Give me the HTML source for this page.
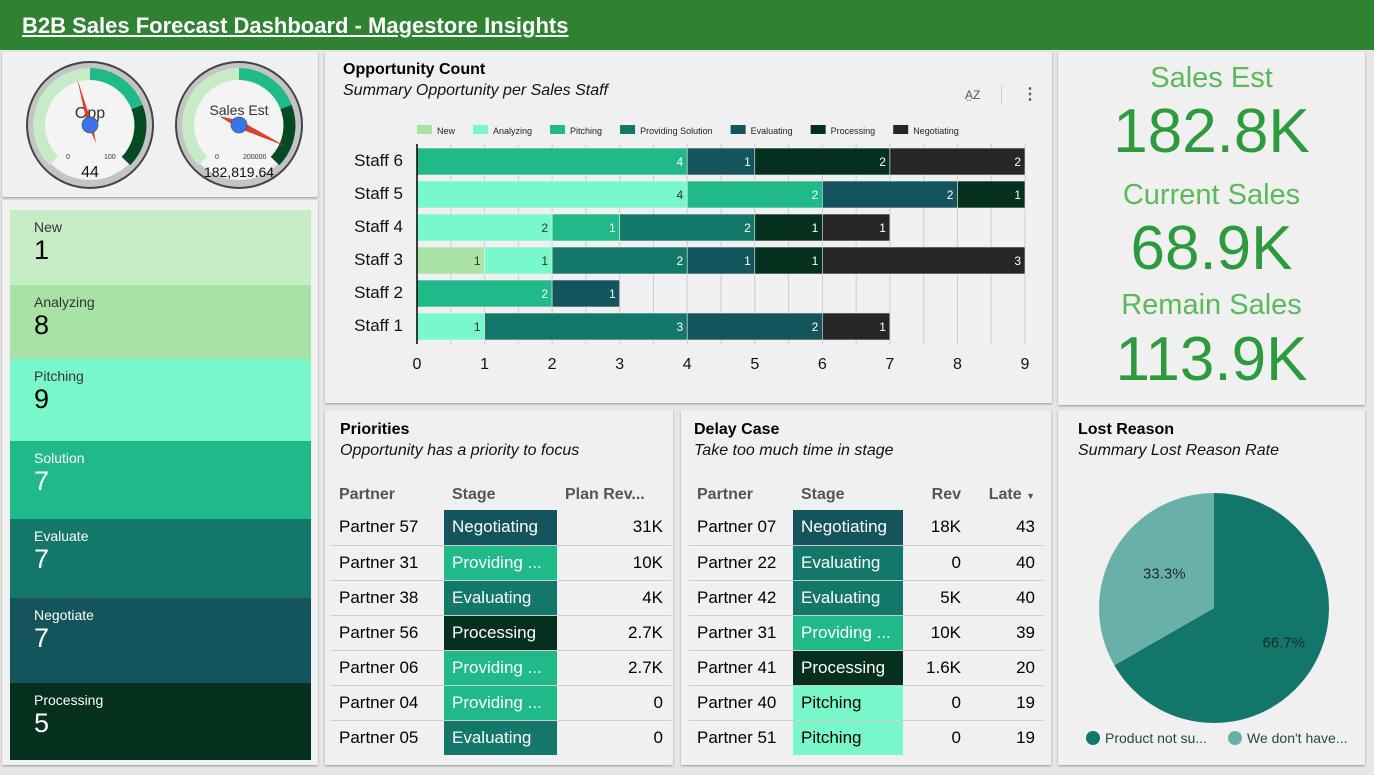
<!DOCTYPE html>
<html><head><meta charset="utf-8">
<style>
*{box-sizing:border-box;margin:0;padding:0}
body{width:1374px;height:775px;background:#e6e6e6;font-family:"Liberation Sans",sans-serif;position:relative;overflow:hidden}
.panel{position:absolute;background:#f0f0f0;box-shadow:0 1px 2px rgba(0,0,0,.35)}
.hdr{position:absolute;left:0;top:0;width:1374px;height:50px;background:#2e8232}
.hdr span{position:absolute;left:22px;top:13px;color:#fff;font-weight:bold;font-size:22px;text-decoration:underline}
.card{position:absolute;left:10px;width:301px}
.card .l{position:absolute;left:24px;top:9px;font-size:14px;color:#333}
.card .v{position:absolute;left:24px;top:25px;font-size:27px;color:#000}
.card.d .l,.card.d .v{color:#fff}
.ttl{position:absolute;font-weight:bold;font-size:16px;color:#000}
.sub{position:absolute;font-style:italic;font-size:16px;color:#111}
.kl{position:absolute;width:307px;text-align:center;color:#5cb85c;font-size:29px}
.kv{position:absolute;width:307px;text-align:center;color:#2e9a3e;font-size:62px}
table{position:absolute;border-collapse:collapse;font-size:17px}
td,th{height:35px;padding:0 8px;white-space:nowrap;overflow:hidden}
th{color:#555;font-size:16px;text-align:left;height:30px}
tr.r td{border-bottom:1px solid #ccc}
td.n{text-align:right}
</style></head><body>
<div class="hdr"><span>B2B Sales Forecast Dashboard - Magestore Insights</span></div>

<div class="panel" style="left:2px;top:52px;width:316px;height:145px">
<svg width="316" height="145">
<g transform="translate(88,73)">
<circle r="64" fill="#444"/><circle r="62" fill="#c4c4c4"/><circle r="55" fill="#f4f4f4"/>
<path d="M -36 36 A 51 51 0 0 1 0 -51" stroke="#c6ebc6" stroke-width="12" fill="none"/>
<path d="M 0 -51 A 51 51 0 0 1 47 -18" stroke="#20b98a" stroke-width="12" fill="none"/>
<path d="M 47 -18 A 51 51 0 0 1 36 36" stroke="#064a22" stroke-width="12" fill="none"/>
<text x="0" y="-7" text-anchor="middle" font-size="16" fill="#333">Opp</text>
<text x="-24" y="34" font-size="7" fill="#333">0</text><text x="14" y="34" font-size="7" fill="#333">100</text>
<text x="0" y="52" text-anchor="middle" font-size="16" fill="#111">44</text>
<polygon points="-13,-47 -3,-2 6,18 3,2" fill="#d94030"/>
<circle r="8" fill="#3d72e8" stroke="#456" stroke-width="0.7"/>
</g>
<g transform="translate(237,73)">
<circle r="64" fill="#444"/><circle r="62" fill="#c4c4c4"/><circle r="55" fill="#f4f4f4"/>
<path d="M -36 36 A 51 51 0 0 1 0 -51" stroke="#c6ebc6" stroke-width="12" fill="none"/>
<path d="M 0 -51 A 51 51 0 0 1 47 -18" stroke="#20b98a" stroke-width="12" fill="none"/>
<path d="M 47 -18 A 51 51 0 0 1 36 36" stroke="#064a22" stroke-width="12" fill="none"/>
<text x="0" y="-10" text-anchor="middle" font-size="14" fill="#333">Sales Est</text>
<text x="-24" y="34" font-size="7" fill="#333">0</text><text x="4" y="34" font-size="7" fill="#333">200000</text>
<text x="0" y="52" text-anchor="middle" font-size="14" fill="#111">182,819.64</text>
<polygon points="46,21 2,-4 -20,-9 -1,3" fill="#d94030"/>
<circle r="8" fill="#3d72e8" stroke="#456" stroke-width="0.7"/>
</g></svg></div>

<div class="panel" style="left:2px;top:200px;width:316px;height:565px"></div>
<div class="card" style="top:210px;height:75px;background:#c6ecc6"><div class="l">New</div><div class="v">1</div></div>
<div class="card" style="top:285px;height:74px;background:#a8e2a4"><div class="l">Analyzing</div><div class="v">8</div></div>
<div class="card" style="top:359px;height:82px;background:#78f8cb"><div class="l">Pitching</div><div class="v">9</div></div>
<div class="card d" style="top:441px;height:78px;background:#20b98a"><div class="l">Solution</div><div class="v">7</div></div>
<div class="card d" style="top:519px;height:79px;background:#13786a"><div class="l">Evaluate</div><div class="v">7</div></div>
<div class="card d" style="top:598px;height:85px;background:#14545c"><div class="l">Negotiate</div><div class="v">7</div></div>
<div class="card d" style="top:683px;height:77px;background:#05301e"><div class="l">Processing</div><div class="v">5</div></div>

<div class="panel" style="left:325px;top:52px;width:727px;height:351px">
<div class="ttl" style="left:18px;top:9px">Opportunity Count</div>
<div class="sub" style="left:18px;top:30px">Summary Opportunity per Sales Staff</div>
<div style="position:absolute;left:640px;top:36px;font-size:12px;color:#555">A̤Z</div>
<div style="position:absolute;left:676px;top:33px;width:1px;height:20px;background:#ccc"></div>
<div style="position:absolute;left:697px;top:32px;font-size:16px;color:#555;font-weight:bold">⋮</div>
<svg id="bar" width="727" height="351" style="position:absolute;left:0;top:0"></svg>
</div>

<div class="panel" style="left:1058px;top:52px;width:307px;height:353px">
<div class="kl" style="top:10px">Sales Est</div><div class="kv" style="top:44px">182.8K</div>
<div class="kl" style="top:127px">Current Sales</div><div class="kv" style="top:161px">68.9K</div>
<div class="kl" style="top:237px">Remain Sales</div><div class="kv" style="top:272px">113.9K</div>
</div>

<div class="panel" style="left:325px;top:410px;width:348px;height:355px">
<div class="ttl" style="left:15px;top:11px">Priorities</div>
<div class="sub" style="left:15px;top:32px">Opportunity has a priority to focus</div>
<table style="left:6px;top:70px;width:340px">
<colgroup><col style="width:113px"><col style="width:113px"><col style="width:114px"></colgroup>
<tr><th>Partner</th><th>Stage</th><th>Plan Rev...</th></tr>
<tr class="r"><td>Partner 57</td><td style="background:#14545c;color:#fff">Negotiating</td><td class="n">31K</td></tr>
<tr class="r"><td>Partner 31</td><td style="background:#20b98a;color:#fff">Providing ...</td><td class="n">10K</td></tr>
<tr class="r"><td>Partner 38</td><td style="background:#13786a;color:#fff">Evaluating</td><td class="n">4K</td></tr>
<tr class="r"><td>Partner 56</td><td style="background:#05301e;color:#fff">Processing</td><td class="n">2.7K</td></tr>
<tr class="r"><td>Partner 06</td><td style="background:#20b98a;color:#fff">Providing ...</td><td class="n">2.7K</td></tr>
<tr class="r"><td>Partner 04</td><td style="background:#20b98a;color:#fff">Providing ...</td><td class="n">0</td></tr>
<tr><td>Partner 05</td><td style="background:#13786a;color:#fff">Evaluating</td><td class="n">0</td></tr>
</table></div>

<div class="panel" style="left:681px;top:410px;width:370px;height:355px">
<div class="ttl" style="left:13px;top:11px">Delay Case</div>
<div class="sub" style="left:13px;top:32px">Take too much time in stage</div>
<table style="left:8px;top:70px;width:354px">
<colgroup><col style="width:104px"><col style="width:110px"><col style="width:66px"><col style="width:74px"></colgroup>
<tr><th>Partner</th><th>Stage</th><th style="text-align:right">Rev</th><th style="text-align:right">Late <span style="font-size:9px">▼</span></th></tr>
<tr class="r"><td>Partner 07</td><td style="background:#14545c;color:#fff">Negotiating</td><td class="n">18K</td><td class="n">43</td></tr>
<tr class="r"><td>Partner 22</td><td style="background:#13786a;color:#fff">Evaluating</td><td class="n">0</td><td class="n">40</td></tr>
<tr class="r"><td>Partner 42</td><td style="background:#13786a;color:#fff">Evaluating</td><td class="n">5K</td><td class="n">40</td></tr>
<tr class="r"><td>Partner 31</td><td style="background:#20b98a;color:#fff">Providing ...</td><td class="n">10K</td><td class="n">39</td></tr>
<tr class="r"><td>Partner 41</td><td style="background:#05301e;color:#fff">Processing</td><td class="n">1.6K</td><td class="n">20</td></tr>
<tr class="r"><td>Partner 40</td><td style="background:#78f8cb;color:#000">Pitching</td><td class="n">0</td><td class="n">19</td></tr>
<tr><td>Partner 51</td><td style="background:#78f8cb;color:#000">Pitching</td><td class="n">0</td><td class="n">19</td></tr>
</table></div>

<div class="panel" style="left:1058px;top:410px;width:307px;height:355px">
<div class="ttl" style="left:20px;top:11px">Lost Reason</div>
<div class="sub" style="left:20px;top:32px">Summary Lost Reason Rate</div>
<svg id="pie" width="307" height="355" style="position:absolute;left:0;top:0"></svg>
</div>

<script>
const NS="http://www.w3.org/2000/svg";
function mk(p,t,a){const e=document.createElementNS(NS,t);for(const k in a)e.setAttribute(k,a[k]);p.appendChild(e);return e;}
// Bar chart data
const staff=["Staff 6","Staff 5","Staff 4","Staff 3","Staff 2","Staff 1"];
const stages=["New","Analyzing","Pitching","Providing Solution","Evaluating","Processing","Negotiating"];
const sNew=[0,0,0,1,0,0];
const sAnalyzing=[0,4,2,1,0,1];
const sPitching=[4,2,1,0,2,0];
const sProviding=[0,0,2,2,0,3];
const sEvaluating=[1,2,0,1,1,2];
const sProcessing=[2,1,1,1,0,0];
const sNegotiating=[2,0,1,3,0,1];
const xTicks=[0,1,2,3,4,5,6,7,8,9];
const series=[sNew,sAnalyzing,sPitching,sProviding,sEvaluating,sProcessing,sNegotiating];
const colors=["#a8e2a4","#78f8cb","#20b98a","#13786a","#14545c","#05301e","#262626"];
const bar=document.getElementById("bar");
const x0=92,x1=700,xMax=9;const X=v=>x0+(x1-x0)*v/xMax;
const Y=i=>96+i*33;
for(let v=0;v<=xMax;v+=0.5){const l=mk(bar,"line",{x1:X(v),x2:X(v),y1:92,y2:292,stroke:"#ccc","stroke-width":1});

}
xTicks.forEach(t=>{const tx=mk(bar,"text",{x:X(t),y:317,"text-anchor":"middle","font-size":16,fill:"#111"});tx.textContent=t;

});
staff.forEach((s,i)=>{const tx=mk(bar,"text",{x:78,y:Y(i)+18,"text-anchor":"end","font-size":17,fill:"#111"});tx.textContent=s;


let acc=0;series.forEach((ser,k)=>{const v=ser[i];if(!v)return;
const r=mk(bar,"rect",{x:X(acc),y:Y(i),width:X(acc+v)-X(acc),height:27,fill:colors[k],stroke:"#eee","stroke-width":0.6});


acc+=v;const lt=mk(bar,"text",{x:X(acc)-4,y:Y(i)+18,"text-anchor":"end","font-size":12,fill:k<2?"#333":"#fff"});lt.textContent=v;

});});
mk(bar,"line",{x1:X(0),x2:X(0),y1:92,y2:292,stroke:"#000","stroke-width":1.5});
let lx=92;stages.forEach((s,k)=>{const r=mk(bar,"rect",{x:lx,y:73,width:15,height:9,fill:colors[k]});


const t=mk(bar,"text",{x:lx+20,y:82,"font-size":9,fill:"#222"});t.textContent=s;


lx+=20+t.getComputedTextLength()+18;});
// Pie data
const pieLabels=["Product not su...","We don't have..."];
const pieValues=[66.7,33.3];
const pieColors=["#12776a","#6ab0aa"];
const pie=document.getElementById("pie");const cx=156,cy=198,R=115;
let a=0;const tot=pieValues.reduce((p,c)=>p+c,0);
pieValues.forEach((v,i)=>{const a2=a+v/tot*2*Math.PI;
const p=(t)=>[cx+R*Math.sin(t),cy-R*Math.cos(t)];const [ax,ay]=p(a),[bx,by]=p(a2);
const pa=mk(pie,"path",{d:`M${cx},${cy}L${ax},${ay}A${R},${R} 0 ${a2-a>Math.PI?1:0} 1 ${bx},${by}Z`,fill:pieColors[i]});


const m=(a+a2)/2;const t=mk(pie,"text",{x:cx+R*0.6*Math.sin(m)+10,y:cy-R*0.6*Math.cos(m)+5,"text-anchor":"middle","font-size":15,fill:"#1a2a28"});t.textContent=v.toFixed(1)+"%";


a=a2;});
let px=35;pieLabels.forEach((l,i)=>{const c=mk(pie,"circle",{cx:px,cy:328,r:7,fill:pieColors[i]});


const t=mk(pie,"text",{x:px+12,y:333,"font-size":14,fill:"#1e4d3a"});t.textContent=l;


px+=142;});
</script>
</body></html>
